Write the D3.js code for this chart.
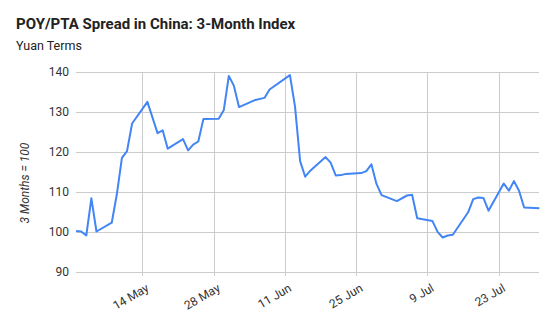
<!DOCTYPE html>
<html>
<head>
<meta charset="utf-8">
<script src="https://cdn.jsdelivr.net/npm/d3@7"></script>
<style>
  html, body { margin: 0; padding: 0; background: #fff; }
  svg { display: block; font-family: Roboto, "Noto Sans", sans-serif; }
</style>
</head>
<body>
<svg id="chart" width="555" height="320"></svg>
<script>
const title = "POY/PTA Spread in China: 3-Month Index";
const subtitle = "Yuan Terms";
const yAxisLabel = "3 Months = 100";

const dates = [
  "2018-05-01","2018-05-02","2018-05-03","2018-05-04","2018-05-05",
  "2018-05-08","2018-05-09","2018-05-10","2018-05-11","2018-05-12",
  "2018-05-15","2018-05-17","2018-05-18","2018-05-19",
  "2018-05-22","2018-05-23","2018-05-24","2018-05-25","2018-05-26",
  "2018-05-29","2018-05-30","2018-05-31","2018-06-01","2018-06-02",
  "2018-06-05","2018-06-07","2018-06-08",
  "2018-06-12","2018-06-13","2018-06-14","2018-06-15","2018-06-16",
  "2018-06-19","2018-06-20","2018-06-21","2018-06-22","2018-06-23",
  "2018-06-26","2018-06-27","2018-06-28","2018-06-29","2018-06-30",
  "2018-07-03","2018-07-05","2018-07-06","2018-07-07",
  "2018-07-10","2018-07-11","2018-07-12","2018-07-13","2018-07-14",
  "2018-07-17","2018-07-18","2018-07-19","2018-07-20","2018-07-21",
  "2018-07-24","2018-07-25","2018-07-26","2018-07-27","2018-07-28",
  "2018-07-31"
];
const values = [
  100.1, 100.0, 99.0, 108.3, 100.0,
  102.2, 109.3, 118.4, 120.1, 127.0,
  132.4, 124.6, 125.3, 120.7,
  123.1, 120.3, 121.7, 122.5, 128.1,
  128.2, 130.3, 138.9, 136.4, 131.1,
  132.8, 133.4, 135.5,
  139.1, 131.2, 117.6, 113.7, 115.2,
  118.6, 117.2, 114.0, 114.1, 114.4,
  114.6, 115.1, 116.8, 111.9, 109.1,
  107.6, 109.0, 109.2, 103.3,
  102.6, 99.9, 98.5, 99.0, 99.2,
  104.8, 108.1, 108.5, 108.4, 105.2,
  112.0, 110.2, 112.6, 110.2, 106.0,
  105.8
];
const yTicks = [90, 100, 110, 120, 130, 140];
const xTickDates = ["2018-05-14","2018-05-28","2018-06-11","2018-06-25","2018-07-09","2018-07-23"];

const parse = d3.utcParse("%Y-%m-%d");
const data = dates.map((d, i) => ({ date: parse(d), value: values[i] }));

const svg = d3.select("#chart");
const pLeft = 76.1, pRight = 539.4, pTop = 71.5, pBottom = 271.5;

const x = d3.scaleUtc()
  .domain([parse("2018-05-01"), parse("2018-07-31")])
  .range([pLeft, pRight]);
const y = d3.scaleLinear().domain([90, 140]).range([pBottom, pTop]);

// Title & subtitle
svg.append("text").attr("x", 16).attr("y", 29)
  .attr("font-size", 15).attr("font-weight", "bold").attr("fill", "#222")
  .text(title);
svg.append("text").attr("x", 16).attr("y", 49.5)
  .attr("font-size", 12.5).attr("fill", "#222")
  .text(subtitle);

// Y grid + labels
const yAxis = d3.axisLeft(y).tickValues(yTicks).tickSize(-(pRight - pLeft)).tickPadding(7);
const gy = svg.append("g").attr("transform", `translate(${pLeft},0)`).call(yAxis);
gy.select(".domain").remove();
gy.selectAll(".tick line").attr("stroke", "#ccc").attr("shape-rendering", "crispEdges");
gy.selectAll(".tick text").attr("font-size", 12).attr("fill", "#333")
  .attr("font-family", "Roboto, sans-serif");

// X grid + labels
const xAxis = d3.axisBottom(x).tickValues(xTickDates.map(parse))
  .tickSize(-(pBottom - pTop)).tickFormat(d3.utcFormat("%-d %b"));
const gx = svg.append("g").attr("transform", `translate(0,${pBottom})`).call(xAxis);
gx.select(".domain").remove();
gx.selectAll(".tick line").attr("stroke", "#ccc").attr("y2", -(pBottom - pTop))
  .attr("y1", 4).attr("shape-rendering", "crispEdges");
gx.selectAll(".tick text")
  .attr("font-size", 12).attr("fill", "#333").attr("font-family", "Roboto, sans-serif")
  .attr("text-anchor", "end").attr("dy", null).attr("y", 0)
  .attr("transform", "translate(7,19) rotate(-30)");

// Y axis title
svg.append("text")
  .attr("transform", "translate(29,183) rotate(-90)")
  .attr("text-anchor", "middle").attr("font-size", 12).attr("font-style", "italic")
  .attr("fill", "#333").text(yAxisLabel);

// Line
const line = d3.line().x(d => x(d.date)).y(d => y(d.value));
svg.append("path").datum(data)
  .attr("fill", "none").attr("stroke", "#4285f4").attr("stroke-width", 2)
  .attr("stroke-linejoin", "round").attr("d", line);
</script>
</body>
</html>
